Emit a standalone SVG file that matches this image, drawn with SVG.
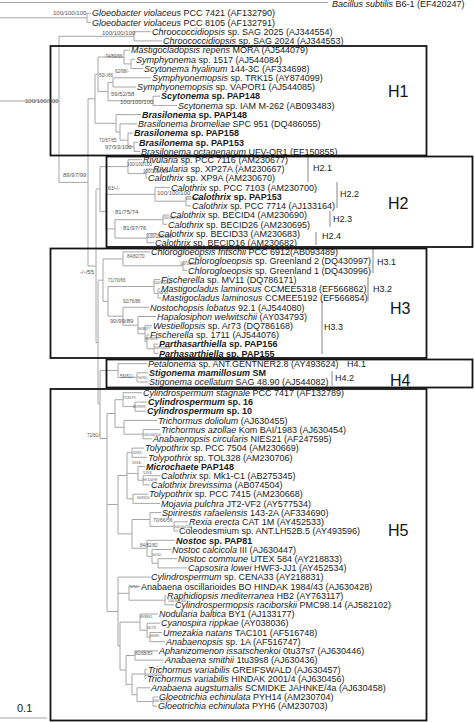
<svg xmlns="http://www.w3.org/2000/svg" width="474" height="722" viewBox="0 0 474 722">
<style>
.t{font-family:"Liberation Sans",Arial,sans-serif;font-size:9px;fill:#1a1a1a}
.i{font-style:italic}
.b{font-weight:bold}
.bs{font-family:"Liberation Sans",Arial,sans-serif;font-size:6px;fill:#555}
.s5{font-size:5px}
.s4{font-size:4.5px}
.s3{font-size:3.2px}
.ln{fill:none;stroke:#a6a6a6;stroke-width:1}
.box{fill:none;stroke:#141414;stroke-width:1.8}
.hl{font-family:"Liberation Sans",Arial,sans-serif;font-size:16px;fill:#111}
.sl{font-family:"Liberation Sans",Arial,sans-serif;font-size:9px;fill:#222}
.brk{stroke:#b0b0b0;stroke-width:1.5}
</style>
<rect width="474" height="722" fill="#fff"/>
<g id="connectors">
<path class="ln" d="M0 2.5H328 M0 17.8H87 M87 13.2V22.4 M87 13.2H91 M87 22.4H91 M0 101H59 M59 36.3V182.4 M59 36.3H134 M134 31.7V40.9 M134 31.7H151 M134 40.9H162 M59 182.4H88 M88 98.8V266 M88 266H96 M96 190V342.5 M96 342.5H98 M98 281.2V403.7 M98 403.7H100 M100 370.5V438.5"/>
<path class="ln" d="M88 98.8H95 M95 74.3V123.3 M95 74.3H98 M98 57V91.6 M98 57H124 M124 50.1V63.9 M124 50.1H130 M124 63.9H131 M131 59.3V68.5 M131 59.3H135 M131 68.5H143 M98 91.6H108 M108 82.4V100.8 M108 82.4H113 M113 77.8V87 M113 77.8H151 M113 87H136 M108 100.8H153 M153 96.2V105.4 M153 96.2H160 M153 105.4H177 M95 123.3H116 M116 114.6V132 M116 114.6H141 M116 132H120 M120 123.9V140.2 M120 123.9H137 M120 140.2H128 M128 133.1V146.9 M128 133.1H133 M128 146.9H134 M134 142.3V151.5 M134 142.3H138 M134 151.5H140"/>
<g transform="translate(0 -1)">
<path class="ln" d="M96 190H100 M100 167.6V212.6 M100 167.6H128 M128 160.7V174.6 M128 160.7H142 M128 174.6H146 M146 170V179.2 M146 170H152 M146 179.2H147 M100 212.6H106 M106 195.3V229.9 M106 195.3H155 M155 188.4V202.2 M155 188.4H170 M155 202.2H186 M186 197.6V206.8 M186 197.6H191 M186 206.8H191 M106 229.9H115 M115 220.7V239.1 M115 220.7H163 M115 239.1H147 M163 216.1V225.3 M163 216.1H169 M163 225.3H167 M147 234.5V243.7 M147 234.5H157 M147 243.7H154"/>
<path class="ln" d="M98 281.2H103 M103 259.9V302.4 M103 259.9H123 M123 252.9V266.8 M123 252.9H150 M123 266.8H183 M183 262.2V271.4 M183 262.2H187 M183 271.4H187 M103 302.4H108 M108 287.5V317.2 M108 287.5H154 M154 280.6V294.4 M154 280.6H160 M154 294.4H158 M158 289.8V299 M158 289.8H160 M158 299H161 M108 317.2H123 M123 308.3V326.2 M123 308.3H149 M123 326.2H138 M138 317.5V334.8 M138 317.5H156 M138 334.8H145 M145 326.7V342.8 M145 326.7H152 M145 342.8H147 M147 335.9V349.8 M147 335.9H149 M147 349.8H154 M154 345.1V354.4 M154 345.1H158 M154 354.4H158"/>
</g>
<path class="ln" d="M100 370.5H118 M118 363.6V377.4 M118 363.6H147 M118 377.4H137 M137 372.8V382 M137 372.8H148 M137 382H148"/>
<g transform="translate(0 1.5)">
<path class="ln" d="M100 437H107 M107 412V610 M107 412H115 M115 398.2V425.8 M115 398.2H123 M115 425.8H124 M123 391.2V405.1 M123 391.2H142 M123 405.1H135 M135 400.5V409.7 M135 400.5H147 M135 409.7H146 M124 418.9V432.7 M124 418.9H157 M124 432.7H143 M143 428.1V437.3 M143 428.1H160 M143 437.3H152"/>
<path class="ln" d="M107 503H118 M118 474V532.4 M118 474H127 M118 532.4H132 M127 451.2V497.3 M127 451.2H132 M127 471.9H138 M127 497.3H133 M132 446.6V455.8 M132 446.6H144 M132 455.8H147 M138 465V478.8 M138 465H145 M138 478.8H143 M143 474.2V483.4 M143 474.2H160 M143 483.4H150 M133 492.7V501.9 M133 492.7H148 M133 501.9H160 M132 518V546.8 M132 518H150 M132 546.8H147 M150 511.1V524.9 M150 511.1H161 M150 524.9H174 M174 520.3V529.5 M174 520.3H188 M174 529.5H178 M147 538.8V554.9 M147 538.8H175 M147 554.9H152 M152 548V561.8 M152 548H171 M152 561.8H158 M158 557.2V566.4 M158 557.2H177 M158 566.4H187"/>
<path class="ln" d="M107 610H118 M118 575.6V644.5 M118 575.6H150 M118 591.8H129 M118 644.5H120 M129 584.9V598.7 M129 584.9H140 M129 598.7H165 M165 594.1V603.3 M165 594.1H166 M165 603.3H174 M120 620.6V668.5 M120 620.6H140 M120 668.5H126 M140 612.5V628.7 M140 612.5H158 M140 628.7H147 M147 621.7V635.6 M147 621.7H160 M147 635.6H150 M150 631V640.2 M150 631H162 M150 640.2H165 M126 654V682.9 M126 654H135 M126 682.9H132 M135 649.4V658.6 M135 649.4H158 M135 658.6H164 M132 672.5V693.2 M132 672.5H145 M132 693.2H137 M145 667.8V677.1 M145 667.8H147 M145 677.1H146 M137 686.3V700.1 M137 686.3H150 M137 700.1H153 M153 695.5V704.7 M153 695.5H158 M153 704.7H157"/>
</g>
<g id="brackets">
<path class="brk" d="M308 156V182 M337 182V208 M330 211V227 M316 232V245 M373 249V273 M368 277V301 M322 301V354 M332 371V386"/>
</g>
</g>
<g id="clades">
<g id="H1"><rect class="box" x="50.5" y="46" width="376" height="109.5"/><text class="hl" x="388" y="97">H1</text></g>
<g id="H2"><rect class="box" x="106.5" y="156.5" width="366" height="90.5"/><text class="hl" x="388" y="209">H2</text>
<text class="sl" x="313" y="171">H2.1</text><text class="sl" x="340" y="197">H2.2</text><text class="sl" x="333" y="222">H2.3</text><text class="sl" x="322" y="239">H2.4</text></g>
<g id="H3"><rect class="box" x="50.5" y="248.5" width="376" height="109.5"/><text class="hl" x="390" y="314">H3</text>
<text class="sl" x="377" y="265">H3.1</text><text class="sl" x="373" y="292">H3.2</text><text class="sl" x="324" y="330">H3.3</text></g>
<g id="H4"><rect class="box" x="106.5" y="359.5" width="366" height="28"/><text class="hl" x="390" y="386">H4</text>
<text class="sl" x="347" y="366.5">H4.1</text><text class="sl" x="335" y="380.5">H4.2</text></g>
<g id="H5"><rect class="box" x="50.5" y="389" width="376" height="331.5"/><text class="hl" x="388" y="536">H5</text></g>
</g>
<g id="support">
<text class="bs" x="53" y="15">100/100/100</text>
<text class="bs" x="102" y="35">100/100/100</text>
<text class="bs" x="25" y="102.7">100/100/100</text>
<text class="bs s4" x="105" y="57.5">74/89/66</text>
<text class="bs s4" x="115" y="73.2">62/98/-</text>
<text class="bs s4" x="99" y="76.5">50/-/66</text>
<text class="bs" x="111" y="96">59/52/58</text>
<text class="bs" x="120" y="103.7">100/100/100</text>
<text class="bs s4" x="99" y="142.2">72/67/65</text>
<text class="bs" x="105" y="149">97/93/100</text>
<text class="bs" x="63" y="177">89/97/99</text>
<text class="bs s4" x="127" y="165.5">100/100/100</text>
<text class="bs s4" x="143" y="173.2">100/100/100</text>
<text class="bs s5" x="108" y="189.7">63/-/-</text>
<text class="bs" x="157" y="195">100/100/100</text>
<text class="bs s3" x="185" y="200.1">100/100/100</text>
<text class="bs" x="115" y="214">81/75/74</text>
<text class="bs s3" x="163" y="219.1">100/100/100</text>
<text class="bs" x="123" y="230">81/97/76</text>
<text class="bs s4" x="147" y="238.2">100/100/100</text>
<text class="bs" x="80" y="273.7">-/-/55</text>
<text class="bs s4" x="127" y="257.5">84/82/70</text>
<text class="bs s3" x="180" y="265.1">100/100/100</text>
<text class="bs s4" x="108" y="281.5">71/70/66</text>
<text class="bs s3" x="154" y="284.4">100/100/100</text>
<text class="bs s3" x="159" y="293.8">84/50/-</text>
<text class="bs s4" x="123" y="303">92/76/86</text>
<text class="bs" x="110" y="322.7">90/99/89</text>
<text class="bs s3" x="138" y="330.1">96/80/77</text>
<text class="bs s3" x="145" y="340.1">98/99/98</text>
<text class="bs s3" x="154" y="349.1">100/100/98</text>
<text class="bs s4" x="120" y="377.5">56/61/-</text>
<text class="bs s3" x="138" y="379.1">94/90/-</text>
<text class="bs s3" x="123" y="399.1">71/82/79</text>
<text class="bs s3" x="133" y="407.8">85/99/99</text>
<text class="bs s4" x="87" y="436.5">72/81/-</text>
<text class="bs s3" x="143" y="436.1">100/100/100</text>
<text class="bs s3" x="133" y="454.1">63/81/-</text>
<text class="bs s3" x="132" y="464.1">53/63/-</text>
<text class="bs s3" x="143" y="473.8">52/63/-</text>
<text class="bs s3" x="143" y="481.1">99/100/99</text>
<text class="bs s3" x="137" y="499.1">60/69/54</text>
<text class="bs s5" x="153" y="521.7">70/66/56</text>
<text class="bs s3" x="174" y="527.8">100/100/100</text>
<text class="bs s4" x="140" y="546.8">84/82/82</text>
<text class="bs s3" x="152" y="556.1">50/50/-</text>
<text class="bs s3" x="129" y="587.8">70/52/-</text>
<text class="bs s3" x="168" y="602.1">100/100/100</text>
<text class="bs s3" x="140" y="617.8">89/88/61</text>
<text class="bs s3" x="147" y="628.8">56/73/-</text>
<text class="bs s3" x="150" y="637.1">63/69/-</text>
<text class="bs s4" x="135" y="654.8">80/88/83</text>
<text class="bs s3" x="145" y="676.1">100/100/100</text>
<text class="bs s3" x="153" y="702.1">100/100/100</text>
</g>
<g id="leaves">
<g id="n01"><text class="t" x="332" y="7"><tspan class="i">Bacillus subtilis</tspan> B6-1 (EF420247)</text></g>
<g id="n02"><text class="t" x="92" y="16.4"><tspan class="i">Gloeobacter violaceus</tspan> PCC 7421 (AF132790)</text></g>
<g id="n03"><text class="t" x="92" y="25.6"><tspan class="i">Gloeobacter violaceus</tspan> PCC 8105 (AF132791)</text></g>
<g id="n04"><text class="t" x="152" y="34.9"><tspan class="i">Chroococcidiopsis</tspan> sp. SAG 2025 (AJ344554)</text></g>
<g id="n05"><text class="t" x="163" y="44.1"><tspan class="i">Chroococcidiopsis</tspan> sp. SAG 2024 (AJ344553)</text></g>
<g id="n06"><text class="t" x="131" y="53.3"><tspan class="i">Mastigocladopsis repens</tspan> MORA (AJ544079)</text></g>
<g id="n07"><text class="t" x="136" y="62.5"><tspan class="i">Symphyonema</tspan> sp. 1517 (AJ544084)</text></g>
<g id="n08"><text class="t" x="144" y="71.7"><tspan class="i">Scytonema hyalinum</tspan> 144-3C (AF334698)</text></g>
<g id="n09"><text class="t" x="152" y="81"><tspan class="i">Symphyonemopsis</tspan> sp. TRK15 (AY874099)</text></g>
<g id="n10"><text class="t" x="137" y="90.2"><tspan class="i">Symphyonemopsis</tspan> sp. VAPOR1 (AJ544085)</text></g>
<g id="n11"><text class="t b" x="161" y="99.4"><tspan class="i">Scytonema</tspan> sp. PAP148</text></g>
<g id="n12"><text class="t" x="178" y="108.6"><tspan class="i">Scytonema</tspan> sp. IAM M-262 (AB093483)</text></g>
<g id="n13"><text class="t b" x="142" y="117.8"><tspan class="i">Brasilonema</tspan> sp. PAP148</text></g>
<g id="n14"><text class="t" x="138" y="127.1"><tspan class="i">Brasilonema bromeliae</tspan> SPC 951 (DQ486055)</text></g>
<g id="n15"><text class="t b" x="134" y="136.3"><tspan class="i">Brasilonema</tspan> sp. PAP158</text></g>
<g id="n16"><text class="t b" x="139" y="145.5"><tspan class="i">Brasilonema</tspan> sp. PAP153</text></g>
<g id="n17"><text class="t" x="141" y="154.7"><tspan class="i">Brasilonema octagenarum</tspan> UFV-OR1 (EF150855)</text></g>
<g transform="translate(0 -1)">
<g id="n18"><text class="t" x="143" y="163.9"><tspan class="i">Rivularia</tspan> sp. PCC 7116 (AM230677)</text></g>
<g id="n19"><text class="t" x="153" y="173.2"><tspan class="i">Rivularia</tspan> sp. XP27A (AM230667)</text></g>
<g id="n20"><text class="t" x="148" y="182.4"><tspan class="i">Calothrix</tspan> sp. XP9A (AM230670)</text></g>
<g id="n21"><text class="t" x="171" y="191.6"><tspan class="i">Calothrix</tspan> sp. PCC 7103 (AM230700)</text></g>
<g id="n22"><text class="t b" x="192" y="200.8"><tspan class="i">Calothrix</tspan> sp. PAP153</text></g>
<g id="n23"><text class="t" x="192" y="210"><tspan class="i">Calothrix</tspan> sp. PCC 7714 (AJ133164)</text></g>
<g id="n24"><text class="t" x="170" y="219.3"><tspan class="i">Calothrix</tspan> sp. BECID4 (AM230690)</text></g>
<g id="n25"><text class="t" x="168" y="228.5"><tspan class="i">Calothrix</tspan> sp. BECID26 (AM230695)</text></g>
<g id="n26"><text class="t" x="158" y="237.7"><tspan class="i">Calothrix</tspan> sp. BECID33 (AM230683)</text></g>
<g id="n27"><text class="t" x="155" y="246.9"><tspan class="i">Calothrix</tspan> sp. BECID16 (AM230682)</text></g>
<g id="n28"><text class="t" x="151" y="256.1"><tspan class="i">Chlorogloeopsis fritschii</tspan> PCC 6912(AB093489)</text></g>
<g id="n29"><text class="t" x="188" y="265.4"><tspan class="i">Chlorogloeopsis</tspan> sp. Greenland 2 (DQ430997)</text></g>
<g id="n30"><text class="t" x="188" y="274.6"><tspan class="i">Chlorogloeopsis</tspan> sp. Greenland 1 (DQ430996)</text></g>
<g id="n31"><text class="t" x="161" y="283.8"><tspan class="i">Fischerella</tspan> sp. MV11 (DQ786171)</text></g>
<g id="n32"><text class="t" x="161" y="293"><tspan class="i">Mastigocladus laminosus</tspan> CCMEE5318 (EF566862)</text></g>
<g id="n33"><text class="t" x="162" y="302.2"><tspan class="i">Mastigocladus laminosus</tspan> CCMEE5192 (EF566854)</text></g>
<g id="n34"><text class="t" x="150" y="311.5"><tspan class="i">Nostochopsis lobatus</tspan> 92.1 (AJ544080)</text></g>
<g id="n35"><text class="t" x="157" y="320.7"><tspan class="i">Hapalosiphon welwitschii</tspan> (AY034793)</text></g>
<g id="n36"><text class="t" x="153" y="329.9"><tspan class="i">Westiellopsis</tspan> sp. Ar73 (DQ786168)</text></g>
<g id="n37"><text class="t" x="150" y="339.1"><tspan class="i">Fischerella</tspan> sp. 1711 (AJ544076)</text></g>
<g id="n38"><text class="t b" x="159" y="348.3"><tspan class="i">Parthasarthiella</tspan> sp. PAP156</text></g>
<g id="n39"><text class="t b" x="159" y="357.6"><tspan class="i">Parhasarthiella</tspan> sp. PAP155</text></g>
</g>
<g id="n40"><text class="t" x="148" y="366.8"><tspan class="i">Petalonema</tspan> sp. ANT.GENTNER2.8 (AY493624)</text></g>
<g id="n41"><text class="t b" x="149" y="376"><tspan class="i">Stigonema mamillosum</tspan> SM</text></g>
<g id="n42"><text class="t" x="149" y="385.2"><tspan class="i">Stigonema ocellatum</tspan> SAG 48.90 (AJ544082)</text></g>
<g transform="translate(0 1.5)">
<g id="n43"><text class="t" x="143" y="394.4"><tspan class="i">Cylindrospermum stagnale</tspan> PCC 7417 (AF132789)</text></g>
<g id="n44"><text class="t b" x="148" y="403.7"><tspan class="i">Cylindrospermum</tspan> sp. 16</text></g>
<g id="n45"><text class="t b" x="147" y="412.9"><tspan class="i">Cylindrospermum</tspan> sp. 10</text></g>
<g id="n46"><text class="t" x="158" y="422.1"><tspan class="i">Trichormus doliolum</tspan> (AJ630455)</text></g>
<g id="n47"><text class="t" x="161" y="431.3"><tspan class="i">Trichormus azollae</tspan> Kom BAI/1983 (AJ630454)</text></g>
<g id="n48"><text class="t" x="153" y="440.5"><tspan class="i">Anabaenopsis circularis</tspan> NIES21 (AF247595)</text></g>
<g id="n49"><text class="t" x="145" y="449.8"><tspan class="i">Tolypothrix</tspan> sp. PCC 7504 (AM230669)</text></g>
<g id="n50"><text class="t" x="148" y="459"><tspan class="i">Tolypothrix</tspan> sp. TOL328 (AM230706)</text></g>
<g id="n51"><text class="t b" x="146" y="468.2"><tspan class="i">Microchaete</tspan> PAP148</text></g>
<g id="n52"><text class="t" x="161" y="477.4"><tspan class="i">Calothrix</tspan> sp. Mk1-C1 (AB275345)</text></g>
<g id="n53"><text class="t" x="151" y="486.6"><tspan class="i">Calothrix brevissima</tspan> (AB074504)</text></g>
<g id="n54"><text class="t" x="149" y="495.9"><tspan class="i">Tolypothrix</tspan> sp. PCC 7415 (AM230668)</text></g>
<g id="n55"><text class="t" x="161" y="505.1"><tspan class="i">Mojavia pulchra</tspan> JT2-VF2 (AY577534)</text></g>
<g id="n56"><text class="t" x="162" y="514.3"><tspan class="i">Spirirestis rafaelensis</tspan> 143-2A (AF334690)</text></g>
<g id="n57"><text class="t" x="189" y="523.5"><tspan class="i">Rexia erecta</tspan> CAT 1M (AY452533)</text></g>
<g id="n58"><text class="t" x="179" y="532.7">Coleodesmium sp. ANT.LH52B.5 (AY493596)</text></g>
<g id="n59"><text class="t b" x="176" y="542"><tspan class="i">Nostoc</tspan> sp. PAP81</text></g>
<g id="n60"><text class="t" x="172" y="551.2"><tspan class="i">Nostoc calcicola</tspan> III (AJ630447)</text></g>
<g id="n61"><text class="t" x="178" y="560.4"><tspan class="i">Nostoc commune</tspan> UTEX 584 (AY218833)</text></g>
<g id="n62"><text class="t" x="188" y="569.6"><tspan class="i">Capsosira lowei</tspan> HWF3-JJ1 (AY452534)</text></g>
<g id="n63"><text class="t" x="151" y="578.8"><tspan class="i">Cylindrospermum</tspan> sp. CENA33 (AY218831)</text></g>
<g id="n64"><text class="t" x="141" y="588.1">Anabaena oscillarioides BO HINDAK 1984/43 (AJ630428)</text></g>
<g id="n65"><text class="t" x="167" y="597.3"><tspan class="i">Raphidiopsis mediterranea</tspan> HB2 (AY763117)</text></g>
<g id="n66"><text class="t" x="175" y="606.5"><tspan class="i">Cylindrospermopsis raciborskii</tspan> PMC98.14 (AJ582102)</text></g>
<g id="n67"><text class="t" x="159" y="615.7"><tspan class="i">Nodularia baltica</tspan> BY1 (AJ133177)</text></g>
<g id="n68"><text class="t" x="161" y="624.9"><tspan class="i">Cyanospira rippkae</tspan> (AY038036)</text></g>
<g id="n69"><text class="t" x="163" y="634.2"><tspan class="i">Umezakia natans</tspan> TAC101 (AF516748)</text></g>
<g id="n70"><text class="t" x="166" y="643.4"><tspan class="i">Anabaenopsis</tspan> sp. 1A (AF516747)</text></g>
<g id="n71"><text class="t" x="159" y="652.6"><tspan class="i">Aphanizomenon issatschenkoi</tspan> 0tu37s7 (AJ630446)</text></g>
<g id="n72"><text class="t" x="165" y="661.8"><tspan class="i">Anabaena smithii</tspan> 1tu39s8 (AJ630436)</text></g>
<g id="n73"><text class="t" x="148" y="671"><tspan class="i">Trichormus variabilis</tspan> GREIFSWALD (AJ630457)</text></g>
<g id="n74"><text class="t" x="147" y="680.3"><tspan class="i">Trichormus variabilis</tspan> HINDAK 2001/4 (AJ630456)</text></g>
<g id="n75"><text class="t" x="151" y="689.5"><tspan class="i">Anabaena augstumalis</tspan> SCMIDKE JAHNKE/4a (AJ630458)</text></g>
<g id="n76"><text class="t" x="159" y="698.7"><tspan class="i">Gloeotrichia echinulata</tspan> PYH14 (AM230704)</text></g>
<g id="n77"><text class="t" x="158" y="707.9"><tspan class="i">Gloeotrichia echinulata</tspan> PYH6 (AM230703)</text></g>
</g>
</g>
<g id="scale">
<text x="17" y="712" style="font-family:'Liberation Sans',Arial,sans-serif;font-size:11px;fill:#222">0.1</text>
<path class="ln" d="M0 718H47"/>
</g>
</svg>
